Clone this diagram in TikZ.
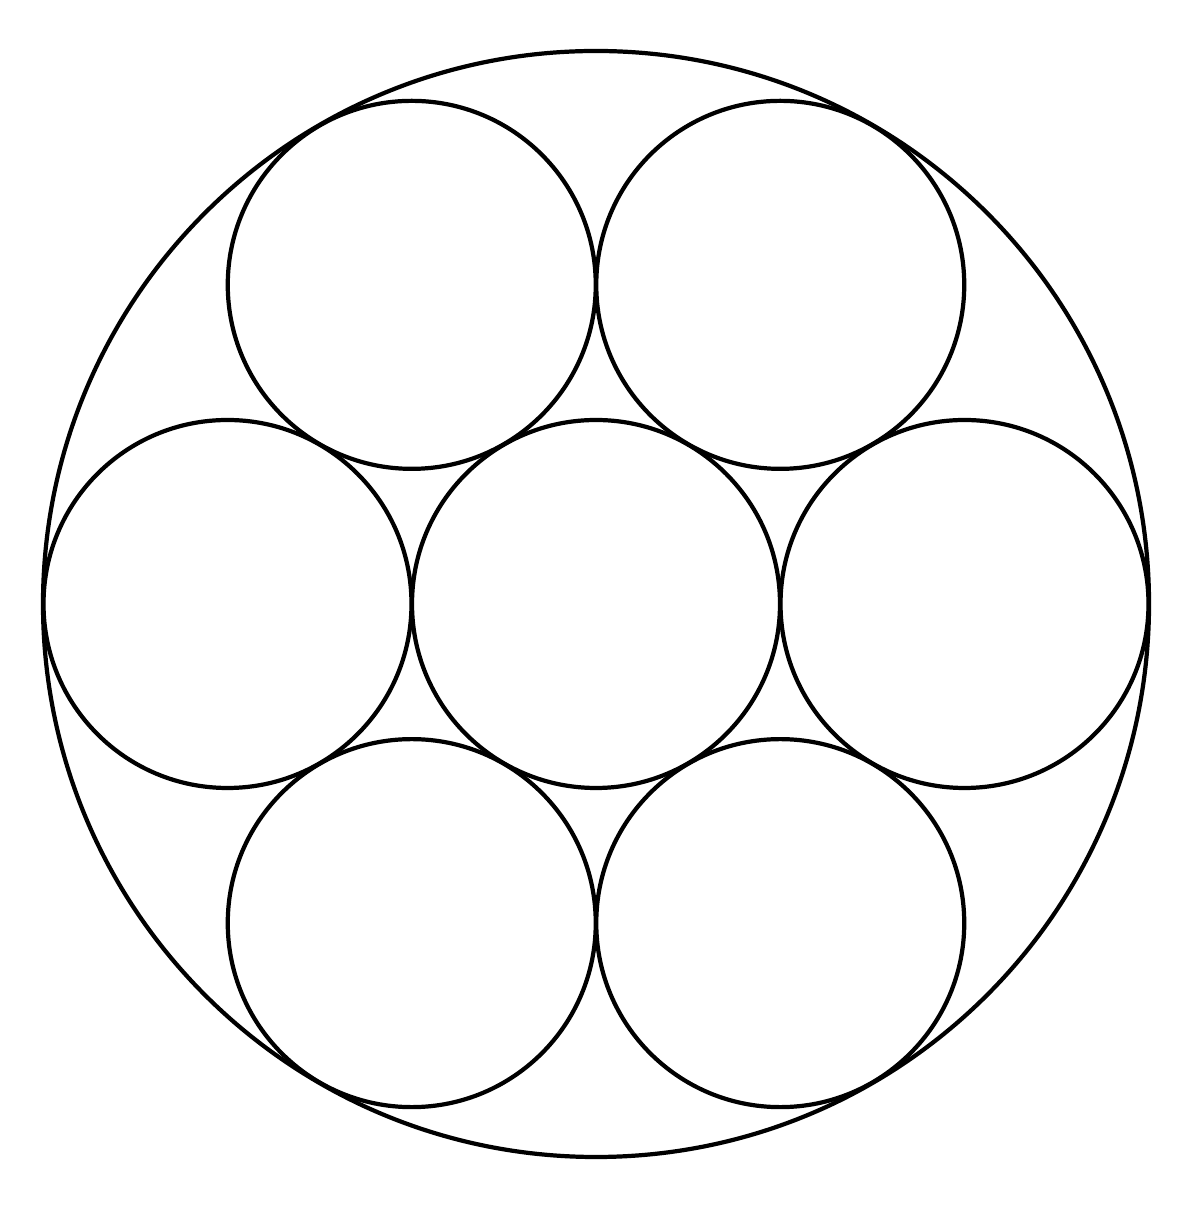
\documentclass[tikz,border=0pt]{standalone}
\usepackage{tikz}
\usetikzlibrary{calc}

\begin{document}
\begin{tikzpicture}[line width=1.2pt,
    every node/.style={draw, circle, inner sep=0pt},
    outer/.style={minimum size=11.06cm},
    inner/.style={minimum size=3.68cm}
 ]
\useasboundingbox (0,0) rectangle (12,12.1);
\coordinate (O) at (5.96,6.06);

\node [outer] (B) at (O) {};
\node [inner] (C0) at (O) {};
\foreach \a/\n in {0/1, 60/2, 120/3, 180/4, 240/5, 300/6}
    \node [inner] (C\n) at ($(O)+(\a:3.685)$) {};
\end{tikzpicture}
\end{document}
